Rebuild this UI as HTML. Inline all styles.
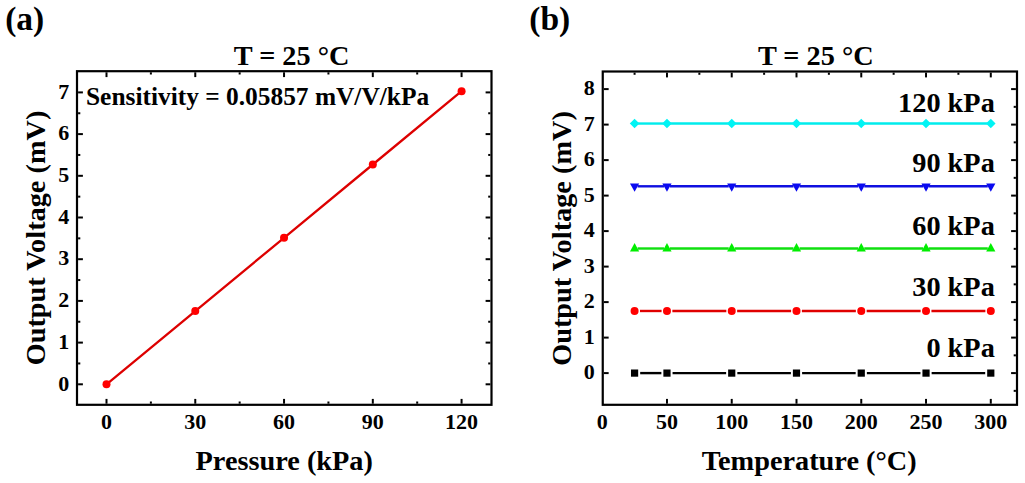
<!DOCTYPE html>
<html><head><meta charset="utf-8"><style>
html,body{margin:0;padding:0;background:#fff;}
body{width:1025px;height:483px;overflow:hidden;}
svg{display:block;}
</style></head><body>
<svg width="1025" height="483" viewBox="0 0 1025 483">
<rect width="1025" height="483" fill="#fff"/>
<g>
<line x1="106.5" y1="403.7" x2="106.5" y2="398.9" stroke="#000" stroke-width="2"/>
<line x1="106.5" y1="72.3" x2="106.5" y2="77.1" stroke="#000" stroke-width="2"/>
<line x1="195.27" y1="403.7" x2="195.27" y2="398.9" stroke="#000" stroke-width="2"/>
<line x1="195.27" y1="72.3" x2="195.27" y2="77.1" stroke="#000" stroke-width="2"/>
<line x1="284.04" y1="403.7" x2="284.04" y2="398.9" stroke="#000" stroke-width="2"/>
<line x1="284.04" y1="72.3" x2="284.04" y2="77.1" stroke="#000" stroke-width="2"/>
<line x1="372.81" y1="403.7" x2="372.81" y2="398.9" stroke="#000" stroke-width="2"/>
<line x1="372.81" y1="72.3" x2="372.81" y2="77.1" stroke="#000" stroke-width="2"/>
<line x1="461.58" y1="403.7" x2="461.58" y2="398.9" stroke="#000" stroke-width="2"/>
<line x1="461.58" y1="72.3" x2="461.58" y2="77.1" stroke="#000" stroke-width="2"/>
<line x1="150.88" y1="403.7" x2="150.88" y2="401.5" stroke="#000" stroke-width="2"/>
<line x1="150.88" y1="72.3" x2="150.88" y2="74.5" stroke="#000" stroke-width="2"/>
<line x1="239.66" y1="403.7" x2="239.66" y2="401.5" stroke="#000" stroke-width="2"/>
<line x1="239.66" y1="72.3" x2="239.66" y2="74.5" stroke="#000" stroke-width="2"/>
<line x1="328.43" y1="403.7" x2="328.43" y2="401.5" stroke="#000" stroke-width="2"/>
<line x1="328.43" y1="72.3" x2="328.43" y2="74.5" stroke="#000" stroke-width="2"/>
<line x1="417.19" y1="403.7" x2="417.19" y2="401.5" stroke="#000" stroke-width="2"/>
<line x1="417.19" y1="72.3" x2="417.19" y2="74.5" stroke="#000" stroke-width="2"/>
<line x1="78.1" y1="384.3" x2="82.9" y2="384.3" stroke="#000" stroke-width="2"/>
<line x1="490.4" y1="384.3" x2="485.6" y2="384.3" stroke="#000" stroke-width="2"/>
<line x1="78.1" y1="342.6" x2="82.9" y2="342.6" stroke="#000" stroke-width="2"/>
<line x1="490.4" y1="342.6" x2="485.6" y2="342.6" stroke="#000" stroke-width="2"/>
<line x1="78.1" y1="300.9" x2="82.9" y2="300.9" stroke="#000" stroke-width="2"/>
<line x1="490.4" y1="300.9" x2="485.6" y2="300.9" stroke="#000" stroke-width="2"/>
<line x1="78.1" y1="259.2" x2="82.9" y2="259.2" stroke="#000" stroke-width="2"/>
<line x1="490.4" y1="259.2" x2="485.6" y2="259.2" stroke="#000" stroke-width="2"/>
<line x1="78.1" y1="217.5" x2="82.9" y2="217.5" stroke="#000" stroke-width="2"/>
<line x1="490.4" y1="217.5" x2="485.6" y2="217.5" stroke="#000" stroke-width="2"/>
<line x1="78.1" y1="175.8" x2="82.9" y2="175.8" stroke="#000" stroke-width="2"/>
<line x1="490.4" y1="175.8" x2="485.6" y2="175.8" stroke="#000" stroke-width="2"/>
<line x1="78.1" y1="134.1" x2="82.9" y2="134.1" stroke="#000" stroke-width="2"/>
<line x1="490.4" y1="134.1" x2="485.6" y2="134.1" stroke="#000" stroke-width="2"/>
<line x1="78.1" y1="92.4" x2="82.9" y2="92.4" stroke="#000" stroke-width="2"/>
<line x1="490.4" y1="92.4" x2="485.6" y2="92.4" stroke="#000" stroke-width="2"/>
<line x1="78.1" y1="363.45" x2="80.3" y2="363.45" stroke="#000" stroke-width="2"/>
<line x1="490.4" y1="363.45" x2="488.2" y2="363.45" stroke="#000" stroke-width="2"/>
<line x1="78.1" y1="321.75" x2="80.3" y2="321.75" stroke="#000" stroke-width="2"/>
<line x1="490.4" y1="321.75" x2="488.2" y2="321.75" stroke="#000" stroke-width="2"/>
<line x1="78.1" y1="280.05" x2="80.3" y2="280.05" stroke="#000" stroke-width="2"/>
<line x1="490.4" y1="280.05" x2="488.2" y2="280.05" stroke="#000" stroke-width="2"/>
<line x1="78.1" y1="238.35" x2="80.3" y2="238.35" stroke="#000" stroke-width="2"/>
<line x1="490.4" y1="238.35" x2="488.2" y2="238.35" stroke="#000" stroke-width="2"/>
<line x1="78.1" y1="196.65" x2="80.3" y2="196.65" stroke="#000" stroke-width="2"/>
<line x1="490.4" y1="196.65" x2="488.2" y2="196.65" stroke="#000" stroke-width="2"/>
<line x1="78.1" y1="154.95" x2="80.3" y2="154.95" stroke="#000" stroke-width="2"/>
<line x1="490.4" y1="154.95" x2="488.2" y2="154.95" stroke="#000" stroke-width="2"/>
<line x1="78.1" y1="113.25" x2="80.3" y2="113.25" stroke="#000" stroke-width="2"/>
<line x1="490.4" y1="113.25" x2="488.2" y2="113.25" stroke="#000" stroke-width="2"/>
<rect x="77" y="71.2" width="414.5" height="333.6" fill="none" stroke="#000" stroke-width="2.2" stroke-linecap="square"/>
<polyline points="106.5,384.3 195.27,311.03 284.04,237.77 372.81,164.5 461.58,91.23" fill="none" stroke="#dd0000" stroke-width="2.3"/>
<circle cx="106.5" cy="384.3" r="4.0" fill="#ff0000"/>
<circle cx="195.27" cy="311.03" r="4.0" fill="#ff0000"/>
<circle cx="284.04" cy="237.77" r="4.0" fill="#ff0000"/>
<circle cx="372.81" cy="164.5" r="4.0" fill="#ff0000"/>
<circle cx="461.58" cy="91.23" r="4.0" fill="#ff0000"/>
<line x1="666.97" y1="403.7" x2="666.97" y2="398.9" stroke="#000" stroke-width="2"/>
<line x1="666.97" y1="72.6" x2="666.97" y2="77.4" stroke="#000" stroke-width="2"/>
<line x1="731.73" y1="403.7" x2="731.73" y2="398.9" stroke="#000" stroke-width="2"/>
<line x1="731.73" y1="72.6" x2="731.73" y2="77.4" stroke="#000" stroke-width="2"/>
<line x1="796.5" y1="403.7" x2="796.5" y2="398.9" stroke="#000" stroke-width="2"/>
<line x1="796.5" y1="72.6" x2="796.5" y2="77.4" stroke="#000" stroke-width="2"/>
<line x1="861.26" y1="403.7" x2="861.26" y2="398.9" stroke="#000" stroke-width="2"/>
<line x1="861.26" y1="72.6" x2="861.26" y2="77.4" stroke="#000" stroke-width="2"/>
<line x1="926.03" y1="403.7" x2="926.03" y2="398.9" stroke="#000" stroke-width="2"/>
<line x1="926.03" y1="72.6" x2="926.03" y2="77.4" stroke="#000" stroke-width="2"/>
<line x1="990.79" y1="403.7" x2="990.79" y2="398.9" stroke="#000" stroke-width="2"/>
<line x1="990.79" y1="72.6" x2="990.79" y2="77.4" stroke="#000" stroke-width="2"/>
<line x1="634.58" y1="72.6" x2="634.58" y2="74.8" stroke="#000" stroke-width="2"/>
<line x1="699.35" y1="72.6" x2="699.35" y2="74.8" stroke="#000" stroke-width="2"/>
<line x1="764.11" y1="72.6" x2="764.11" y2="74.8" stroke="#000" stroke-width="2"/>
<line x1="828.88" y1="72.6" x2="828.88" y2="74.8" stroke="#000" stroke-width="2"/>
<line x1="893.64" y1="72.6" x2="893.64" y2="74.8" stroke="#000" stroke-width="2"/>
<line x1="958.41" y1="72.6" x2="958.41" y2="74.8" stroke="#000" stroke-width="2"/>
<line x1="603.85" y1="373.1" x2="608.65" y2="373.1" stroke="#000" stroke-width="2"/>
<line x1="1015.9" y1="373.1" x2="1011.1" y2="373.1" stroke="#000" stroke-width="2"/>
<line x1="603.85" y1="337.6" x2="608.65" y2="337.6" stroke="#000" stroke-width="2"/>
<line x1="1015.9" y1="337.6" x2="1011.1" y2="337.6" stroke="#000" stroke-width="2"/>
<line x1="603.85" y1="302.1" x2="608.65" y2="302.1" stroke="#000" stroke-width="2"/>
<line x1="1015.9" y1="302.1" x2="1011.1" y2="302.1" stroke="#000" stroke-width="2"/>
<line x1="603.85" y1="266.6" x2="608.65" y2="266.6" stroke="#000" stroke-width="2"/>
<line x1="1015.9" y1="266.6" x2="1011.1" y2="266.6" stroke="#000" stroke-width="2"/>
<line x1="603.85" y1="231.1" x2="608.65" y2="231.1" stroke="#000" stroke-width="2"/>
<line x1="1015.9" y1="231.1" x2="1011.1" y2="231.1" stroke="#000" stroke-width="2"/>
<line x1="603.85" y1="195.6" x2="608.65" y2="195.6" stroke="#000" stroke-width="2"/>
<line x1="1015.9" y1="195.6" x2="1011.1" y2="195.6" stroke="#000" stroke-width="2"/>
<line x1="603.85" y1="160.1" x2="608.65" y2="160.1" stroke="#000" stroke-width="2"/>
<line x1="1015.9" y1="160.1" x2="1011.1" y2="160.1" stroke="#000" stroke-width="2"/>
<line x1="603.85" y1="124.6" x2="608.65" y2="124.6" stroke="#000" stroke-width="2"/>
<line x1="1015.9" y1="124.6" x2="1011.1" y2="124.6" stroke="#000" stroke-width="2"/>
<line x1="603.85" y1="89.1" x2="608.65" y2="89.1" stroke="#000" stroke-width="2"/>
<line x1="1015.9" y1="89.1" x2="1011.1" y2="89.1" stroke="#000" stroke-width="2"/>
<line x1="1015.9" y1="390.85" x2="1013.7" y2="390.85" stroke="#000" stroke-width="2"/>
<line x1="1015.9" y1="355.35" x2="1013.7" y2="355.35" stroke="#000" stroke-width="2"/>
<line x1="1015.9" y1="319.85" x2="1013.7" y2="319.85" stroke="#000" stroke-width="2"/>
<line x1="1015.9" y1="284.35" x2="1013.7" y2="284.35" stroke="#000" stroke-width="2"/>
<line x1="1015.9" y1="248.85" x2="1013.7" y2="248.85" stroke="#000" stroke-width="2"/>
<line x1="1015.9" y1="213.35" x2="1013.7" y2="213.35" stroke="#000" stroke-width="2"/>
<line x1="1015.9" y1="177.85" x2="1013.7" y2="177.85" stroke="#000" stroke-width="2"/>
<line x1="1015.9" y1="142.35" x2="1013.7" y2="142.35" stroke="#000" stroke-width="2"/>
<line x1="1015.9" y1="106.85" x2="1013.7" y2="106.85" stroke="#000" stroke-width="2"/>
<rect x="602.75" y="71.5" width="414.25" height="333.3" fill="none" stroke="#000" stroke-width="2.2" stroke-linecap="square"/>
<line x1="640.18" y1="373.1" x2="661.37" y2="373.1" stroke="#000000" stroke-width="2.4"/>
<line x1="672.57" y1="373.1" x2="726.13" y2="373.1" stroke="#000000" stroke-width="2.4"/>
<line x1="737.33" y1="373.1" x2="790.89" y2="373.1" stroke="#000000" stroke-width="2.4"/>
<line x1="802.1" y1="373.1" x2="855.66" y2="373.1" stroke="#000000" stroke-width="2.4"/>
<line x1="866.86" y1="373.1" x2="920.43" y2="373.1" stroke="#000000" stroke-width="2.4"/>
<line x1="931.63" y1="373.1" x2="985.19" y2="373.1" stroke="#000000" stroke-width="2.4"/>
<rect x="630.98" y="369.5" width="7.2" height="7.2" fill="#000000"/>
<rect x="663.37" y="369.5" width="7.2" height="7.2" fill="#000000"/>
<rect x="728.13" y="369.5" width="7.2" height="7.2" fill="#000000"/>
<rect x="792.89" y="369.5" width="7.2" height="7.2" fill="#000000"/>
<rect x="857.66" y="369.5" width="7.2" height="7.2" fill="#000000"/>
<rect x="922.43" y="369.5" width="7.2" height="7.2" fill="#000000"/>
<rect x="987.19" y="369.5" width="7.2" height="7.2" fill="#000000"/>
<line x1="639.98" y1="310.98" x2="661.57" y2="310.98" stroke="#e00000" stroke-width="2.4"/>
<line x1="672.37" y1="310.98" x2="726.33" y2="310.98" stroke="#e00000" stroke-width="2.4"/>
<line x1="737.13" y1="310.98" x2="791.1" y2="310.98" stroke="#e00000" stroke-width="2.4"/>
<line x1="801.89" y1="310.98" x2="855.86" y2="310.98" stroke="#e00000" stroke-width="2.4"/>
<line x1="866.66" y1="310.98" x2="920.63" y2="310.98" stroke="#e00000" stroke-width="2.4"/>
<line x1="931.43" y1="310.98" x2="985.39" y2="310.98" stroke="#e00000" stroke-width="2.4"/>
<circle cx="634.58" cy="310.98" r="4.0" fill="#ff0000"/>
<circle cx="666.97" cy="310.98" r="4.0" fill="#ff0000"/>
<circle cx="731.73" cy="310.98" r="4.0" fill="#ff0000"/>
<circle cx="796.5" cy="310.98" r="4.0" fill="#ff0000"/>
<circle cx="861.26" cy="310.98" r="4.0" fill="#ff0000"/>
<circle cx="926.03" cy="310.98" r="4.0" fill="#ff0000"/>
<circle cx="990.79" cy="310.98" r="4.0" fill="#ff0000"/>
<line x1="637.58" y1="248.5" x2="663.97" y2="248.5" stroke="#10e010" stroke-width="2.4"/>
<line x1="669.97" y1="248.5" x2="728.73" y2="248.5" stroke="#10e010" stroke-width="2.4"/>
<line x1="734.73" y1="248.5" x2="793.5" y2="248.5" stroke="#10e010" stroke-width="2.4"/>
<line x1="799.5" y1="248.5" x2="858.26" y2="248.5" stroke="#10e010" stroke-width="2.4"/>
<line x1="864.26" y1="248.5" x2="923.03" y2="248.5" stroke="#10e010" stroke-width="2.4"/>
<line x1="929.03" y1="248.5" x2="987.79" y2="248.5" stroke="#10e010" stroke-width="2.4"/>
<polygon points="634.58,243.1 639.18,251.4 629.98,251.4" fill="#00ee00"/>
<polygon points="666.97,243.1 671.57,251.4 662.37,251.4" fill="#00ee00"/>
<polygon points="731.73,243.1 736.33,251.4 727.13,251.4" fill="#00ee00"/>
<polygon points="796.5,243.1 801.1,251.4 791.89,251.4" fill="#00ee00"/>
<polygon points="861.26,243.1 865.86,251.4 856.66,251.4" fill="#00ee00"/>
<polygon points="926.03,243.1 930.63,251.4 921.43,251.4" fill="#00ee00"/>
<polygon points="990.79,243.1 995.39,251.4 986.19,251.4" fill="#00ee00"/>
<line x1="637.58" y1="186.3" x2="663.97" y2="186.3" stroke="#1010e0" stroke-width="2.4"/>
<line x1="669.97" y1="186.3" x2="728.73" y2="186.3" stroke="#1010e0" stroke-width="2.4"/>
<line x1="734.73" y1="186.3" x2="793.5" y2="186.3" stroke="#1010e0" stroke-width="2.4"/>
<line x1="799.5" y1="186.3" x2="858.26" y2="186.3" stroke="#1010e0" stroke-width="2.4"/>
<line x1="864.26" y1="186.3" x2="923.03" y2="186.3" stroke="#1010e0" stroke-width="2.4"/>
<line x1="929.03" y1="186.3" x2="987.79" y2="186.3" stroke="#1010e0" stroke-width="2.4"/>
<polygon points="634.58,191.7 639.18,183.4 629.98,183.4" fill="#0a0af0"/>
<polygon points="666.97,191.7 671.57,183.4 662.37,183.4" fill="#0a0af0"/>
<polygon points="731.73,191.7 736.33,183.4 727.13,183.4" fill="#0a0af0"/>
<polygon points="796.5,191.7 801.1,183.4 791.89,183.4" fill="#0a0af0"/>
<polygon points="861.26,191.7 865.86,183.4 856.66,183.4" fill="#0a0af0"/>
<polygon points="926.03,191.7 930.63,183.4 921.43,183.4" fill="#0a0af0"/>
<polygon points="990.79,191.7 995.39,183.4 986.19,183.4" fill="#0a0af0"/>
<line x1="637.58" y1="123.54" x2="663.97" y2="123.54" stroke="#00ecec" stroke-width="2.4"/>
<line x1="669.97" y1="123.54" x2="728.73" y2="123.54" stroke="#00ecec" stroke-width="2.4"/>
<line x1="734.73" y1="123.54" x2="793.5" y2="123.54" stroke="#00ecec" stroke-width="2.4"/>
<line x1="799.5" y1="123.54" x2="858.26" y2="123.54" stroke="#00ecec" stroke-width="2.4"/>
<line x1="864.26" y1="123.54" x2="923.03" y2="123.54" stroke="#00ecec" stroke-width="2.4"/>
<line x1="929.03" y1="123.54" x2="987.79" y2="123.54" stroke="#00ecec" stroke-width="2.4"/>
<polygon points="634.58,118.74 639.38,123.54 634.58,128.34 629.78,123.54" fill="#00f4f4"/>
<polygon points="666.97,118.74 671.76,123.54 666.97,128.34 662.17,123.54" fill="#00f4f4"/>
<polygon points="731.73,118.74 736.53,123.54 731.73,128.34 726.93,123.54" fill="#00f4f4"/>
<polygon points="796.5,118.74 801.29,123.54 796.5,128.34 791.7,123.54" fill="#00f4f4"/>
<polygon points="861.26,118.74 866.06,123.54 861.26,128.34 856.46,123.54" fill="#00f4f4"/>
<polygon points="926.03,118.74 930.83,123.54 926.03,128.34 921.23,123.54" fill="#00f4f4"/>
<polygon points="990.79,118.74 995.59,123.54 990.79,128.34 985.99,123.54" fill="#00f4f4"/>
</g>
<g font-family="Liberation Serif" font-weight="bold" fill="#000">
<text x="5.2" y="29.8" font-size="33.5" text-anchor="start" >(a)</text>
<text x="529.3" y="29.8" font-size="33.5" text-anchor="start" >(b)</text>
<text x="291.6" y="65" font-size="28.3" text-anchor="middle" >T = 25 &#176;C</text>
<text x="815.8" y="65" font-size="28.3" text-anchor="middle" >T = 25 &#176;C</text>
<text x="86" y="104.6" font-size="25.4" text-anchor="start" >Sensitivity = 0.05857 mV/V/kPa</text>
<text x="69.2" y="390.5" font-size="22" text-anchor="end" >0</text>
<text x="69.2" y="348.8" font-size="22" text-anchor="end" >1</text>
<text x="69.2" y="307.1" font-size="22" text-anchor="end" >2</text>
<text x="69.2" y="265.4" font-size="22" text-anchor="end" >3</text>
<text x="69.2" y="223.7" font-size="22" text-anchor="end" >4</text>
<text x="69.2" y="182" font-size="22" text-anchor="end" >5</text>
<text x="69.2" y="140.3" font-size="22" text-anchor="end" >6</text>
<text x="69.2" y="98.6" font-size="22" text-anchor="end" >7</text>
<text x="106.5" y="429.2" font-size="22" text-anchor="middle" >0</text>
<text x="195.27" y="429.2" font-size="22" text-anchor="middle" >30</text>
<text x="284.04" y="429.2" font-size="22" text-anchor="middle" >60</text>
<text x="372.81" y="429.2" font-size="22" text-anchor="middle" >90</text>
<text x="461.58" y="429.2" font-size="22" text-anchor="middle" >120</text>
<text x="284.25" y="469.7" font-size="28.3" text-anchor="middle" >Pressure (kPa)</text>
<text x="0" y="0" font-size="28.3" text-anchor="middle" transform="translate(45.2,238) rotate(-90)">Output Voltage (mV)</text>
<text x="594.8" y="379.3" font-size="22" text-anchor="end" >0</text>
<text x="594.8" y="343.8" font-size="22" text-anchor="end" >1</text>
<text x="594.8" y="308.3" font-size="22" text-anchor="end" >2</text>
<text x="594.8" y="272.8" font-size="22" text-anchor="end" >3</text>
<text x="594.8" y="237.3" font-size="22" text-anchor="end" >4</text>
<text x="594.8" y="201.8" font-size="22" text-anchor="end" >5</text>
<text x="594.8" y="166.3" font-size="22" text-anchor="end" >6</text>
<text x="594.8" y="130.8" font-size="22" text-anchor="end" >7</text>
<text x="594.8" y="95.3" font-size="22" text-anchor="end" >8</text>
<text x="602.2" y="429.2" font-size="22" text-anchor="middle" >0</text>
<text x="666.97" y="429.2" font-size="22" text-anchor="middle" >50</text>
<text x="731.73" y="429.2" font-size="22" text-anchor="middle" >100</text>
<text x="796.5" y="429.2" font-size="22" text-anchor="middle" >150</text>
<text x="861.26" y="429.2" font-size="22" text-anchor="middle" >200</text>
<text x="926.03" y="429.2" font-size="22" text-anchor="middle" >250</text>
<text x="990.79" y="429.2" font-size="22" text-anchor="middle" >300</text>
<text x="809.2" y="469.8" font-size="28.3" text-anchor="middle" >Temperature (&#176;C)</text>
<text x="0" y="0" font-size="28.3" text-anchor="middle" transform="translate(571.2,238.5) rotate(-90)">Output Voltage (mV)</text>
<text x="994.8" y="111.6" font-size="28.3" text-anchor="end" >120 kPa</text>
<text x="994.8" y="172.3" font-size="28.3" text-anchor="end" >90 kPa</text>
<text x="994.8" y="234.5" font-size="28.3" text-anchor="end" >60 kPa</text>
<text x="994.8" y="295.8" font-size="28.3" text-anchor="end" >30 kPa</text>
<text x="994.8" y="356.9" font-size="28.3" text-anchor="end" >0 kPa</text>
</g>
</svg>
</body></html>
